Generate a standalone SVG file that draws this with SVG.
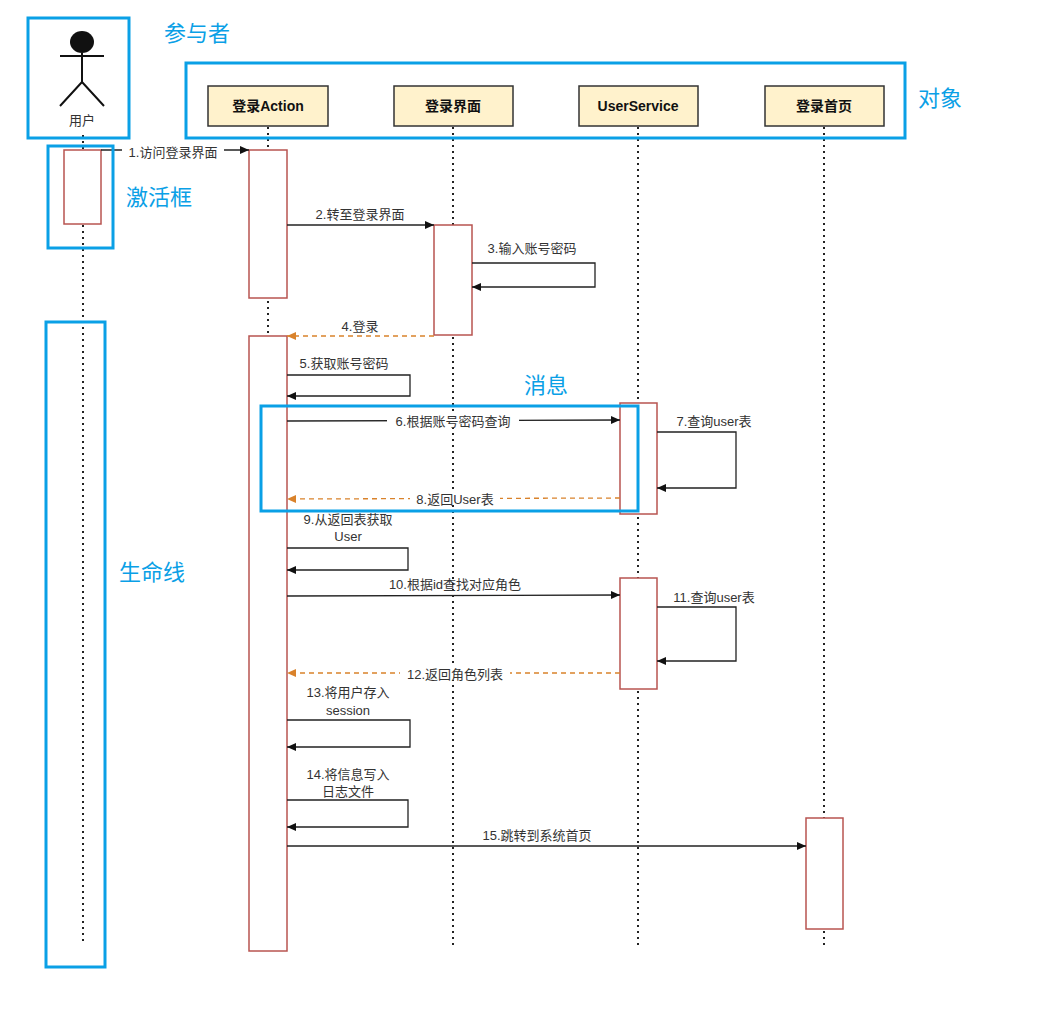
<svg xmlns="http://www.w3.org/2000/svg" width="1064" height="1025" viewBox="0 0 1064 1025">
<style>
text{font-family:"Liberation Sans","Noto Sans CJK SC",sans-serif;}
.hd rect{fill:#fff2cc;stroke:#333;stroke-width:1.5}
.hd text{font-size:14px;font-weight:bold;text-anchor:middle;fill:#111}
.life{stroke:#222;stroke-width:2;stroke-dasharray:2 4}
.act{fill:#fff;stroke:#b85450;stroke-width:1.5}
.blue{fill:none;stroke:#0aa0e6;stroke-width:3}
.bl{fill:#0aa0e6;font-size:22px}
.m{fill:none;stroke:#222;stroke-width:1.3}
.r{fill:none;stroke:#d9822b;stroke-width:1.3;stroke-dasharray:5 4}
.lb{font-size:13px;fill:#333;text-anchor:middle}
</style>
<defs>
<marker id="a" markerWidth="10" markerHeight="10" refX="9" refY="5" orient="auto" markerUnits="userSpaceOnUse"><path d="M0,1 L9,5 L0,9 Z" fill="#111"/></marker>
<marker id="o" markerWidth="10" markerHeight="10" refX="9" refY="5" orient="auto" markerUnits="userSpaceOnUse"><path d="M0,1 L9,5 L0,9 Z" fill="#d9822b"/></marker>
</defs>
<rect width="1064" height="1025" fill="#fff"/>
<g id="lifelines">
<line class="life" x1="83" y1="135" x2="83" y2="945"/>
<line class="life" x1="268" y1="127" x2="268" y2="945"/>
<line class="life" x1="453" y1="127" x2="453" y2="945"/>
<line class="life" x1="638" y1="127" x2="638" y2="945"/>
<line class="life" x1="824" y1="127" x2="824" y2="945"/>
</g>
<g id="actor">
<ellipse cx="82" cy="42" rx="12" ry="11" fill="#111"/>
<path d="M82,53 V82 M60,56 H104 M82,82 L60,106 M82,82 L104,106" stroke="#111" stroke-width="2" fill="none"/>
<text x="82" y="125" font-size="13" text-anchor="middle" fill="#333">用户</text>
</g>
<g id="h1" class="hd"><rect x="208" y="86" width="120" height="40"/><text x="268" y="111">登录Action</text></g>
<g id="h2" class="hd"><rect x="394" y="86" width="119" height="40"/><text x="453" y="111">登录界面</text></g>
<g id="h3" class="hd"><rect x="579" y="86" width="119" height="40"/><text x="638" y="111">UserService</text></g>
<g id="h4" class="hd"><rect x="765" y="86" width="119" height="40"/><text x="824" y="111">登录首页</text></g>
<g id="activations">
<rect class="act" x="64" y="150" width="37" height="74"/>
<rect class="act" x="249" y="150" width="38" height="148"/>
<rect class="act" x="434" y="225" width="38" height="110"/>
<rect class="act" x="249" y="336" width="38" height="615"/>
<rect class="act" x="620" y="403" width="37" height="111"/>
<rect class="act" x="620" y="578" width="37" height="111"/>
<rect class="act" x="806" y="818" width="37" height="111"/>
</g>
<g id="connectors">
<line class="m" x1="101" y1="150" x2="249" y2="150" marker-end="url(#a)"/>
<line class="m" x1="287" y1="225" x2="434" y2="225" marker-end="url(#a)"/>
<path class="m" d="M472,263 H595 V287 H472" marker-end="url(#a)"/>
<line class="r" x1="434" y1="336" x2="287" y2="336" marker-end="url(#o)"/>
<path class="m" d="M287,375 H410 V396 H287" marker-end="url(#a)"/>
<line class="m" x1="287" y1="421" x2="620" y2="420" marker-end="url(#a)"/>
<path class="m" d="M657,432 H736 V488 H657" marker-end="url(#a)"/>
<line class="r" x1="620" y1="498" x2="287" y2="499" marker-end="url(#o)"/>
<path class="m" d="M287,548 H408 V570 H287" marker-end="url(#a)"/>
<line class="m" x1="287" y1="596" x2="620" y2="595" marker-end="url(#a)"/>
<path class="m" d="M657,607 H736 V661 H657" marker-end="url(#a)"/>
<line class="r" x1="620" y1="673" x2="287" y2="673" marker-end="url(#o)"/>
<path class="m" d="M287,720 H410 V747 H287" marker-end="url(#a)"/>
<path class="m" d="M287,800 H408 V827 H287" marker-end="url(#a)"/>
<line class="m" x1="287" y1="846" x2="806" y2="846" marker-end="url(#a)"/>
</g>
<g id="labels">
<rect x="122" y="144" width="102" height="14" fill="#fff"/>
<text class="lb" x="173" y="157">1.访问登录界面</text>
<text class="lb" x="360" y="219">2.转至登录界面</text>
<text class="lb" x="532" y="253">3.输入账号密码</text>
<text class="lb" x="360" y="331">4.登录</text>
<text class="lb" x="344" y="368">5.获取账号密码</text>
<rect x="387" y="414" width="132" height="14" fill="#fff"/>
<text class="lb" x="453" y="426">6.根据账号密码查询</text>
<text class="lb" x="714" y="426">7.查询user表</text>
<rect x="410" y="491" width="90" height="14" fill="#fff"/>
<text class="lb" x="455" y="504">8.返回User表</text>
<text class="lb" x="348" y="524">9.从返回表获取</text>
<text class="lb" x="348" y="541">User</text>
<text class="lb" x="455" y="589">10.根据id查找对应角色</text>
<text class="lb" x="714" y="602">11.查询user表</text>
<rect x="400" y="666" width="110" height="14" fill="#fff"/>
<text class="lb" x="455" y="679">12.返回角色列表</text>
<text class="lb" x="348" y="697">13.将用户存入</text>
<text class="lb" x="348" y="715">session</text>
<text class="lb" x="348" y="779">14.将信息写入</text>
<text class="lb" x="348" y="796">日志文件</text>
<text class="lb" x="537" y="840">15.跳转到系统首页</text>
</g>
<g id="annotations">
<rect class="blue" x="28" y="18" width="101" height="120"/>
<rect class="blue" x="186" y="63" width="719" height="75"/>
<rect class="blue" x="48" y="146" width="65" height="102"/>
<rect class="blue" x="46" y="322" width="59" height="645"/>
<rect class="blue" x="261" y="406" width="377" height="105"/>
<text class="bl" x="164" y="41">参与者</text>
<text class="bl" x="918" y="106">对象</text>
<text class="bl" x="126" y="205">激活框</text>
<text class="bl" x="524" y="393">消息</text>
<text class="bl" x="119" y="580">生命线</text>
</g>
</svg>
